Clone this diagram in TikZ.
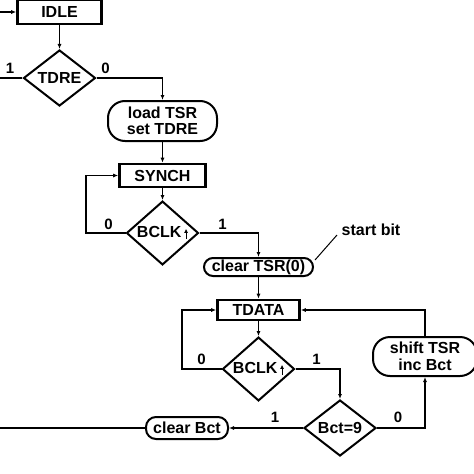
\documentclass[tikz,border=0pt]{standalone}
\usepackage{fontspec}
\setmainfont{Liberation Sans}
\usepackage{tikz}
\usetikzlibrary{shapes}
\usetikzlibrary{arrows.meta,positioning}
\newcommand{\chartfont}{\bfseries\fontsize{16}{16.5}\selectfont}
\newcommand{\lblfont}{\bfseries\fontsize{15}{15}\selectfont}
\newcommand{\arr}{\tikz[x=1cm, y=1cm, baseline=0pt]\draw[line width=1pt, -{Latex[length=4pt,width=4pt]}] (0,-1pt) -- (0,9pt);}
\tikzstyle{st}=[rectangle, draw=black, line width=2.6pt, inner sep=0pt, font=\chartfont]
\tikzstyle{op}=[rectangle, draw=black, line width=2pt, rounded corners=9pt, inner sep=0pt, align=center, font=\chartfont]
\tikzstyle{dec}=[diamond, draw=black, line width=2pt, inner sep=0pt, minimum width=72pt, minimum height=56pt, font=\chartfont]
\tikzstyle{lbl}=[inner sep=0pt, font=\lblfont]

\begin{document}
\begin{tikzpicture}[x=1pt, y=-1pt, >={Latex[length=5pt,width=4pt]}, line width=1.5pt]
\useasboundingbox (0,0) rectangle (474,474);
%
  \node[st, minimum width=84pt, minimum height=24pt] (idle) at (59.5,12) {IDLE};
  \node[dec] (tdre) at (59.5,78) {TDRE};
  \node[op, rounded corners=17pt, minimum width=109pt, minimum height=40pt] (load) at (162.5,121) {load TSR\\set TDRE};
  \node[st, minimum width=86pt, minimum height=23pt] (synch) at (162.5,175.5) {SYNCH};
  \node[dec] (bclka) at (162.5,233) {BCLK\,\arr};
  \node[op, minimum width=109pt, minimum height=18pt] (clrtsr) at (258.5,267) {clear TSR(0)};
  \node[st, minimum width=82pt, minimum height=20pt] (tdata) at (258.5,310) {TDATA};
  \node[dec] (bclkb) at (258.5,369) {BCLK\,\arr};
  \node[dec] (bct) at (340,428) {Bct=9};
  \node[op, rounded corners=17pt, minimum width=104pt, minimum height=39pt] (shift) at (425,356.5) {shift TSR\\inc Bct};
  \node[op, rounded corners=10pt, minimum width=82pt, minimum height=22pt] (clrbct) at (187,428) {clear Bct};
  \node[inner sep=0pt, font=\chartfont] (sbit) at (371,230) {start bit};
  \coordinate (in) at (0,12);
  \coordinate (outa) at (0,78);
  \coordinate (outb) at (0,428);
  \coordinate (loopa) at (86,233);
  \coordinate (loopb) at (182,369);
  \coordinate (sbitend) at (337,235);
%
  \draw[->] (in) -- (idle);
  \draw[->] (idle) -- (tdre);
  \draw (tdre) -- (outa) node[lbl, anchor=south west, xshift=5pt, yshift=4pt] {1};
  \draw[->] (tdre.east) -| node[lbl, at start, anchor=south west, xshift=4pt, yshift=4pt] {0} (load.north);
  \draw[->] (load) -- (synch);
  \draw[->] (synch) -- (bclka);
  \draw[->] (bclka.west) -- node[lbl, at start, anchor=south east, xshift=-12pt, yshift=3pt] {0} (loopa) |- (synch.west);
  \draw[->] (bclka.east) -| node[lbl, at start, anchor=south west, xshift=18pt, yshift=3pt] {1} (clrtsr.north);
  \draw[line width=1pt] ([xshift=1pt, yshift=-3pt]clrtsr.north east) -- (sbitend);
  \draw[->] (clrtsr) -- (tdata);
  \draw[->] (tdata) -- (bclkb);
  \draw[->] (bclkb.west) -- node[lbl, at start, anchor=south east, xshift=-15pt, yshift=4pt] {0} (loopb) |- (tdata.west);
  \draw[->] (bclkb.east) -| node[lbl, at start, anchor=south west, xshift=16pt, yshift=4pt] {1} (bct.north);
  \draw[->] (bct.east) -| node[lbl, at start, anchor=south west, xshift=16pt, yshift=5pt] {0} (shift.south);
  \draw[->] (shift.north) |- (tdata.east);
  \draw[->] (bct.west) -- node[lbl, at start, anchor=south east, xshift=-23pt, yshift=5pt] {1} (clrbct.east);
  \draw (clrbct.west) -- (outb);
%
\end{tikzpicture}
\end{document}
